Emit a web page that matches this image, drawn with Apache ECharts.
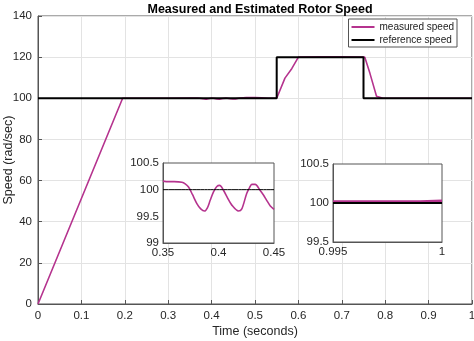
<!DOCTYPE html>
<html><head><meta charset="utf-8">
<script src="https://cdn.jsdelivr.net/npm/echarts@6/dist/echarts.min.js"></script>
<style>html,body{margin:0;padding:0;background:#fff}#c{width:474px;height:341px}</style>
</head><body><div id="c"></div>
<script>
// ---- data ----
const xTicks = [0, 0.1, 0.2, 0.3, 0.4, 0.5, 0.6, 0.7, 0.8, 0.9, 1];
const yTicks = [0, 20, 40, 60, 80, 100, 120, 140];
const referenceTime  = [0, 0.55, 0.55, 0.75, 0.75, 1];
const referenceSpeed = [100, 100, 120, 120, 100, 100];
const measuredTime  = [0, 0.195, 0.25, 0.30, 0.35, 0.367, 0.373, 0.3805, 0.3874, 0.3925, 0.3985, 0.401, 0.4045, 0.412, 0.418, 0.4254, 0.43, 0.433, 0.4374, 0.4434, 0.449, 0.455, 0.465, 0.48, 0.50, 0.515, 0.53, 0.55, 0.569, 0.585, 0.600, 0.65, 0.70, 0.753, 0.765, 0.780, 0.795, 0.85, 0.9, 1];
const measuredSpeed = [0, 100, 100, 100.05, 100.16, 100.14, 100.05, 99.74, 99.6, 99.8, 100.06, 100.08, 99.99, 99.71, 99.6, 99.93, 100.1, 100.1, 99.99, 99.8, 99.63, 99.7, 100.1, 100.3, 100.3, 100.2, 100, 100, 109.8, 114.5, 120, 120.2, 120.2, 120, 112, 101, 100, 100, 100, 100];
const inset1Time  = [0.35, 0.355, 0.36, 0.367, 0.370, 0.373, 0.3765, 0.3805, 0.384, 0.3874, 0.390, 0.3925, 0.3955, 0.3985, 0.401, 0.4045, 0.408, 0.412, 0.418, 0.421, 0.4254, 0.428, 0.43, 0.433, 0.4374, 0.4405, 0.4434, 0.4465, 0.45];
const inset1Speed = [100.16, 100.15, 100.15, 100.14, 100.11, 100.05, 99.91, 99.74, 99.64, 99.6, 99.66, 99.8, 99.96, 100.06, 100.08, 99.99, 99.85, 99.71, 99.6, 99.64, 99.93, 100.04, 100.1, 100.1, 99.99, 99.9, 99.8, 99.7, 99.63];
const inset2Time  = [0.995, 0.999, 1];
const inset2Speed = [100.02, 100.02, 100.03];
const inset2Ref   = [100, 100, 100];
const inset1XTicks = [0.35, 0.4, 0.45];
const inset1YTicks = [99, 99.5, 100, 100.5];
const inset2XTicks = [0.995, 1];
const inset2YTicks = [99.5, 100, 100.5];

const zip = (a, b) => a.map((v, i) => [v, b[i]]);
const MAG = '#b5338e';
const FONT = 'Liberation Sans, Arial, sans-serif';
const lbl = {color: '#262626', fontSize: 11.5, fontFamily: FONT};
const fmt = v => String(+v.toFixed(4));

const chart = echarts.init(document.getElementById('c'), null, {renderer: 'canvas'});
const gridLine = {show: true, lineStyle: {color: '#e3e3e3', width: 1}};
const gbase = {show: true, borderColor: '#555', borderWidth: 1, backgroundColor: '#fff', containLabel: false, outerBoundsMode: 'none'};
chart.setOption({
  animation: false,
  backgroundColor: '#fff',
  title: {text: 'Measured and Estimated Rotor Speed', left: 255, textAlign: 'center', top: -2,
    textStyle: {fontSize: 12.5, fontWeight: 'bold', fontFamily: FONT, color: '#000'}},
  legend: {
    orient: 'vertical', right: 17, top: 19, itemWidth: 23, itemHeight: 2, itemGap: 3,
    padding: [3, 3, 2, 3], borderColor: '#555', borderWidth: 1, backgroundColor: '#fff',
    textStyle: {fontSize: 10, fontFamily: FONT, color: '#222'},
    data: [{name: 'measured speed', icon: 'rect', itemStyle: {color: MAG}},
           {name: 'reference speed', icon: 'rect', itemStyle: {color: '#000'}}]
  },
  grid: [
    Object.assign({left: 38, top: 16, right: 2, bottom: 37}, gbase),
    Object.assign({left: 163, top: 163, width: 111, height: 80, z: 10}, gbase),
    Object.assign({left: 333, top: 164, width: 109, height: 78, z: 10}, gbase)
  ],
  xAxis: [
    {gridIndex: 0, type: 'value', min: 0, max: 1, interval: 0.1,
      name: 'Time (seconds)', nameLocation: 'middle', nameGap: 21, nameMoveOverlap: false,
      nameTextStyle: {fontSize: 12.5, fontFamily: FONT, color: '#262626'},
      axisLine: {lineStyle: {color: '#555'}}, axisTick: {inside: true, length: 4, lineStyle: {color: '#555'}},
      axisLabel: Object.assign({margin: 6, formatter: fmt}, lbl), splitLine: gridLine},
    {gridIndex: 1, type: 'value', min: 0.35, max: 0.45, interval: 0.05,
      axisLine: {lineStyle: {color: '#555'}}, axisTick: {show: false},
      axisLabel: Object.assign({margin: 4, formatter: fmt}, lbl), splitLine: {show: false}, z: 11},
    {gridIndex: 2, type: 'value', min: 0.995, max: 1, interval: 0.005,
      axisLine: {lineStyle: {color: '#555'}}, axisTick: {show: false},
      axisLabel: Object.assign({margin: 4, formatter: fmt}, lbl), splitLine: {show: false}, z: 11}
  ],
  yAxis: [
    {gridIndex: 0, type: 'value', min: 0, max: 140, interval: 20,
      name: 'Speed (rad/sec)', nameLocation: 'middle', nameGap: 23, nameMoveOverlap: false,
      nameTextStyle: {fontSize: 12.5, fontFamily: FONT, color: '#262626'},
      axisLine: {show: true, lineStyle: {color: '#555'}}, axisTick: {show: true, inside: true, length: 4, lineStyle: {color: '#555'}},
      axisLabel: Object.assign({margin: 6}, lbl), splitLine: gridLine},
    {gridIndex: 1, type: 'value', min: 99, max: 100.5, interval: 0.5,
      axisLine: {show: true, lineStyle: {color: '#555'}}, axisTick: {show: false},
      axisLabel: Object.assign({margin: 4, formatter: fmt}, lbl), splitLine: {show: false}, z: 11},
    {gridIndex: 2, type: 'value', min: 99.5, max: 100.5, interval: 0.5,
      axisLine: {show: true, lineStyle: {color: '#555'}}, axisTick: {show: false},
      axisLabel: Object.assign({margin: 4, formatter: fmt}, lbl), splitLine: {show: false}, z: 11}
  ],
  series: [
    {name: 'measured speed', type: 'line', xAxisIndex: 0, yAxisIndex: 0, data: zip(measuredTime, measuredSpeed),
      showSymbol: false, lineStyle: {color: MAG, width: 1.6}, itemStyle: {color: MAG}, z: 2},
    {name: 'reference speed', type: 'line', xAxisIndex: 0, yAxisIndex: 0, data: zip(referenceTime, referenceSpeed),
      showSymbol: false, lineStyle: {color: '#000', width: 2}, itemStyle: {color: '#000'}, z: 3},
    {type: 'line', xAxisIndex: 1, yAxisIndex: 1, data: zip(inset1Time, inset1Speed), smooth: 0.3,
      showSymbol: false, lineStyle: {color: MAG, width: 1.6}, z: 12},
    {type: 'line', xAxisIndex: 1, yAxisIndex: 1, data: zip(inset1Time, inset1Time.map(() => 100)),
      showSymbol: false, lineStyle: {color: '#000', width: 1}, z: 13},
    {type: 'line', xAxisIndex: 2, yAxisIndex: 2, data: zip(inset2Time, inset2Speed),
      showSymbol: false, lineStyle: {color: MAG, width: 2.5}, z: 12},
    {type: 'line', xAxisIndex: 2, yAxisIndex: 2, data: zip(inset2Time, inset2Ref),
      showSymbol: false, lineStyle: {color: '#000', width: 2}, z: 13}
  ]
});
</script></body></html>
